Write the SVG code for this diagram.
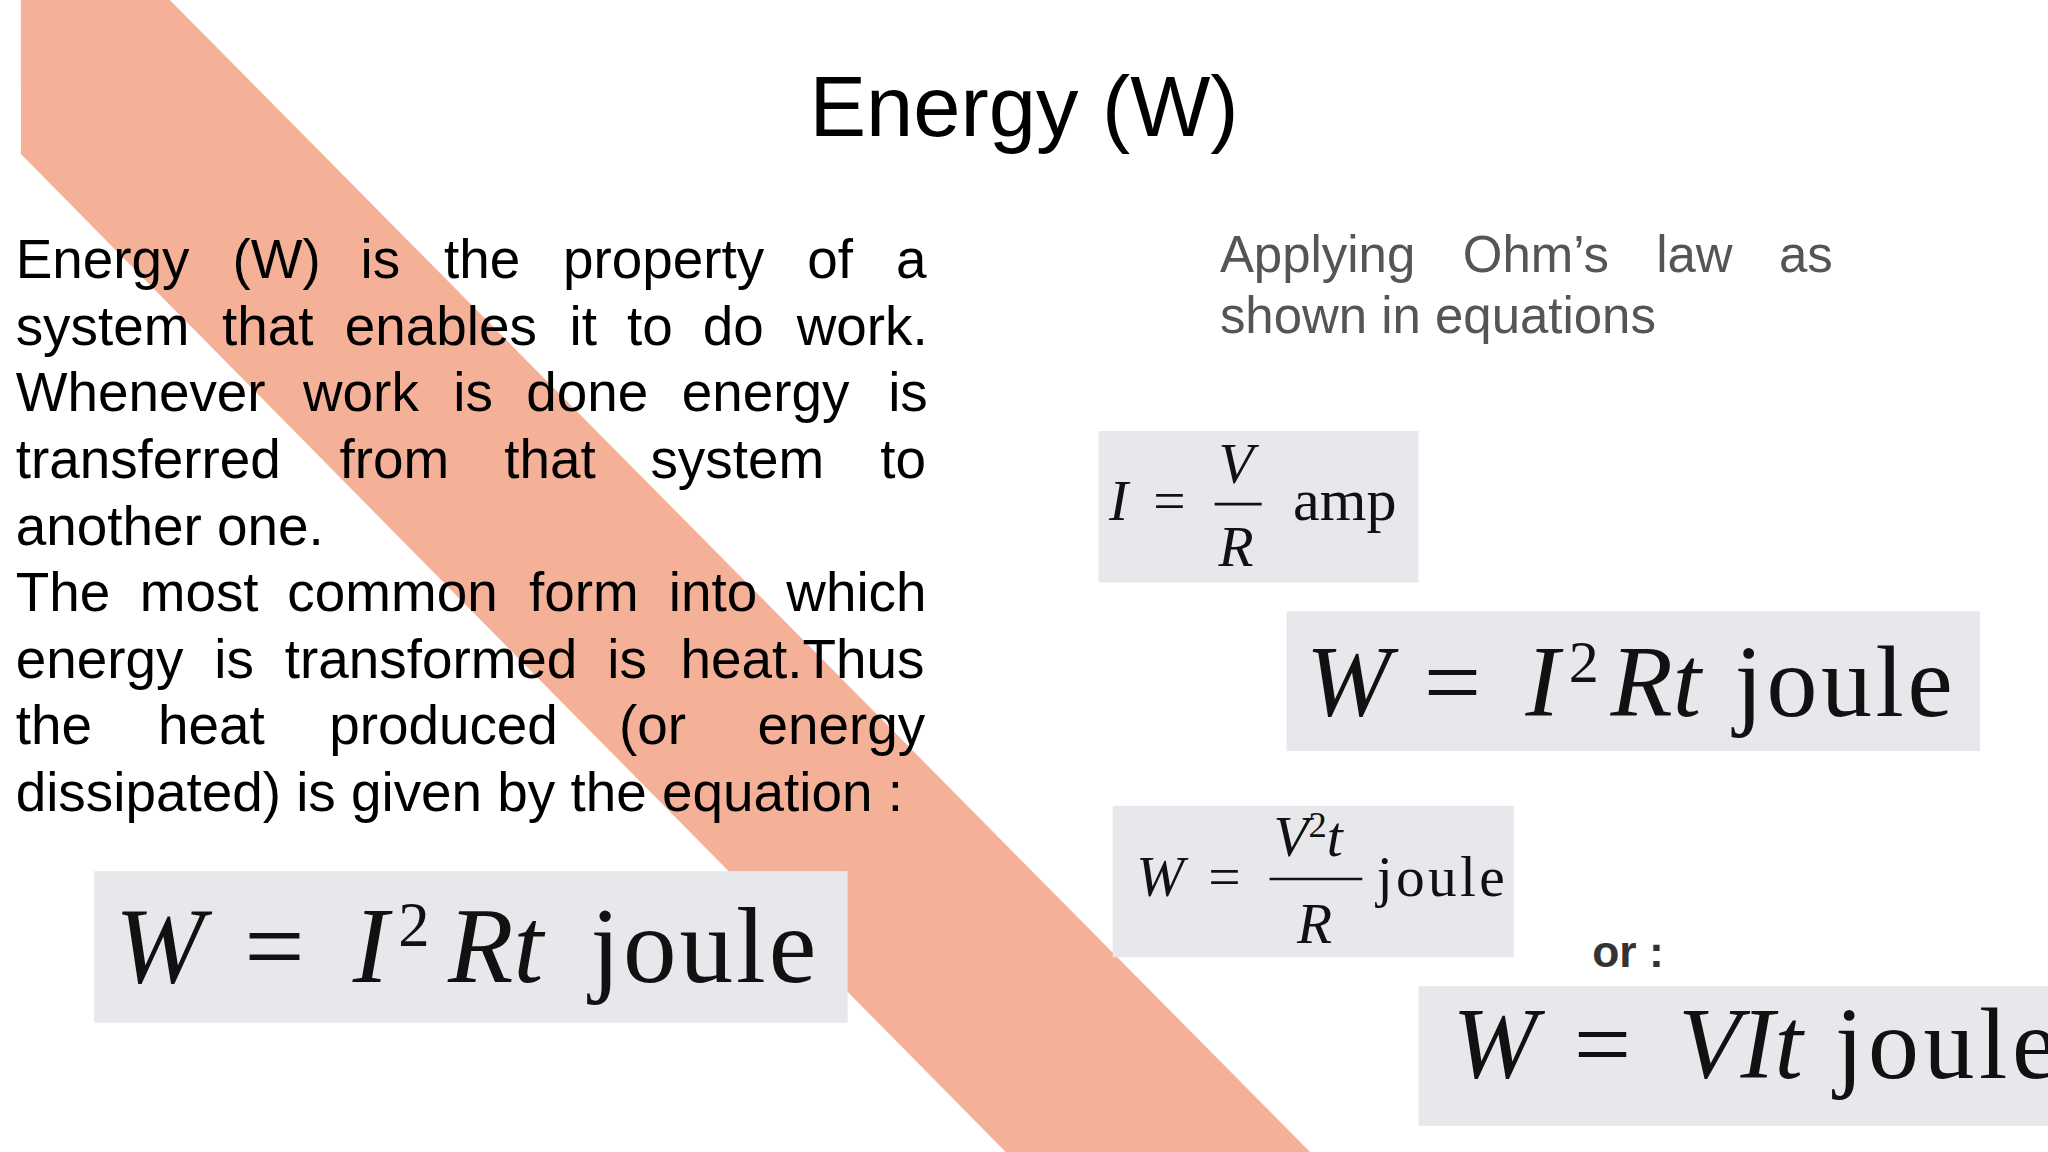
<svg xmlns="http://www.w3.org/2000/svg" width="2048" height="1152" viewBox="0 0 2048 1152">
<style>
.b{font-family:"Liberation Sans",Arial,sans-serif;font-size:42px;fill:#000}
.g{font-family:"Liberation Sans",Arial,sans-serif;font-size:39px;fill:#555}
.m{font-family:"Liberation Serif","Times New Roman",serif;fill:#111}
.i{font-style:italic}
.box{fill:#e6e8eb}
</style>
<rect width="2048" height="1152" fill="#fff"/>
<g transform="scale(1.30612)">
<polygon points="16,0 130,0 1003,882 770,882 16,118" fill="#f4b198"/>
<text x="784" y="104" text-anchor="middle" style="font-family:'Liberation Sans',Arial,sans-serif;font-size:65px">Energy (W)</text>
<g id="body">
<text class="b" y="213"><tspan x="12">Energy</tspan><tspan x="178">(W)</tspan><tspan x="276">is</tspan><tspan x="340">the</tspan><tspan x="431">property</tspan><tspan x="618">of</tspan><tspan x="686">a</tspan></text>
<text class="b" y="264"><tspan x="12">system</tspan><tspan x="170">that</tspan><tspan x="264">enables</tspan><tspan x="436">it</tspan><tspan x="480">to</tspan><tspan x="538">do</tspan><tspan x="610">work.</tspan></text>
<text class="b" y="315"><tspan x="12">Whenever</tspan><tspan x="232">work</tspan><tspan x="347">is</tspan><tspan x="403">done</tspan><tspan x="522">energy</tspan><tspan x="680">is</tspan></text>
<text class="b" y="366"><tspan x="12">transferred</tspan><tspan x="260">from</tspan><tspan x="386">that</tspan><tspan x="498">system</tspan><tspan x="674">to</tspan></text>
<text class="b" x="12" y="417">another one.</text>
<text class="b" y="468"><tspan x="12">The</tspan><tspan x="107">most</tspan><tspan x="220">common</tspan><tspan x="405">form</tspan><tspan x="512">into</tspan><tspan x="602">which</tspan></text>
<text class="b" y="519"><tspan x="12">energy</tspan><tspan x="164">is</tspan><tspan x="218">transformed</tspan><tspan x="465">is</tspan><tspan x="521">heat.Thus</tspan></text>
<text class="b" y="570"><tspan x="12">the</tspan><tspan x="121">heat</tspan><tspan x="252">produced</tspan><tspan x="474">(or</tspan><tspan x="580">energy</tspan></text>
<text class="b" x="12" y="621">dissipated) is given by the equation :</text>
</g>
<g id="ohm">
<text class="g" y="208"><tspan x="934">Applying</tspan><tspan x="1120">Ohm’s</tspan><tspan x="1268">law</tspan><tspan x="1362">as</tspan></text>
<text class="g" x="934" y="255">shown in equations</text>
</g>
<g id="eq1">
<rect class="box" x="841" y="330" width="245" height="116"/>
<text class="m i" x="849" y="398" font-size="44">I</text>
<text class="m" x="883" y="398" font-size="44">=</text>
<text class="m i" x="933" y="370" font-size="44">V</text>
<line x1="930" y1="386" x2="966" y2="386" stroke="#111" stroke-width="2"/>
<text class="m i" x="933" y="433" font-size="44">R</text>
<text class="m" x="990" y="398" font-size="46">amp</text>
</g>
<g id="eq2">
<rect class="box" x="985" y="468" width="531" height="107"/>
<g class="m" font-size="78">
<text class="i" x="1000" y="548">W</text>
<text x="1090" y="548">=</text>
<text class="i" x="1168" y="548">I</text>
<text x="1201" y="522" font-size="46">2</text>
<text class="i" x="1233" y="548">Rt</text>
<text x="1328" y="548" textLength="167">joule</text>
</g>
</g>
<g id="eq3">
<rect class="box" x="852" y="617" width="307" height="116"/>
<text class="m i" x="870" y="686" font-size="44">W</text>
<text class="m" x="925" y="686" font-size="44">=</text>
<text class="m" x="975" y="655" font-size="44"><tspan class="i">V</tspan><tspan font-size="28" dy="-14">2</tspan><tspan class="i" dy="14">t</tspan></text>
<line x1="972" y1="673" x2="1043" y2="673" stroke="#111" stroke-width="2"/>
<text class="m i" x="993" y="722" font-size="44">R</text>
<text class="m" x="1054" y="686" font-size="44" textLength="98">joule</text>
</g>
<text x="1219" y="740" style="font-family:'Liberation Sans',Arial,sans-serif;font-size:34px;font-weight:bold;fill:#333">or :</text>
<g id="eq4">
<rect class="box" x="1086" y="755" width="482" height="107"/>
<g class="m" font-size="78">
<text class="i" x="1112" y="825">W</text>
<text x="1205" y="825">=</text>
<text class="i" x="1285" y="825">VIt</text>
<text x="1405" y="825" textLength="170">joule</text>
</g>
</g>
<g id="eq5">
<rect class="box" x="72" y="667" width="577" height="116"/>
<g class="m" font-size="82">
<text class="i" x="88" y="752">W</text>
<text x="187" y="752">=</text>
<text class="i" x="270" y="752">I</text>
<text x="305" y="724" font-size="48">2</text>
<text class="i" x="343" y="752">Rt</text>
<text x="452" y="752" textLength="173">joule</text>
</g>
</g>
</g>
</svg>
